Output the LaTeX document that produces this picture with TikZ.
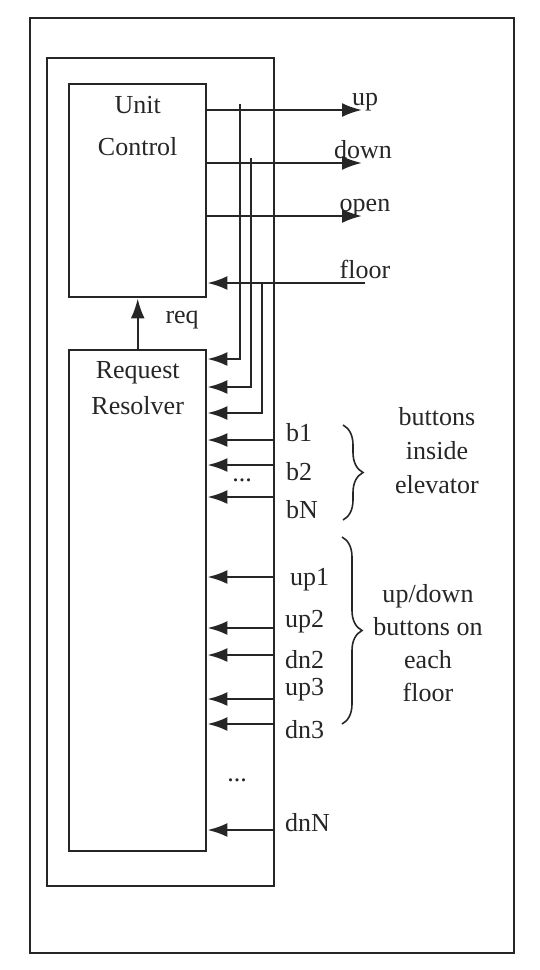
\documentclass[tikz,border=0pt]{standalone}
\usepackage{fontspec}
\setmainfont{Liberation Serif}
\usetikzlibrary{arrows.meta,decorations.pathreplacing}

\begin{document}
\begin{tikzpicture}[x=0.5bp, y=-0.5bp, line width=1.2bp, color=black!85,
  every node/.style={font=\fontsize{13bp}{17bp}\selectfont},
  main node/.style={draw, inner sep=0pt, anchor=north west},
  sig/.style={-{Latex[length=10bp,width=7bp]}},
  pin label/.style={anchor=west, inner sep=0pt},
  brace/.style={decorate, decoration={brace, amplitude=10bp}, line width=0.8bp},
  note/.style={align=center, inner sep=0pt}]
\useasboundingbox (0,0) rectangle (540,970);

\node[main node, minimum width=242bp, minimum height=467.5bp] (system) at (29,17) {};
\node[main node, minimum width=113.5bp, minimum height=414bp] (ctrl) at (46,57) {};
\node[main node, minimum width=68.5bp, minimum height=106.5bp,
  label={[anchor=north, align=center, inner sep=0pt, yshift=-6bp,
  font=\fontsize{13bp}{21bp}\selectfont]north:Unit\\Control}] (uc) at (68,83) {};
\node[main node, minimum width=68.5bp, minimum height=250.5bp,
  label={[anchor=north, align=center, inner sep=0pt, yshift=-5.5bp,
  font=\fontsize{13bp}{18bp}\selectfont]north:Request\\Resolver}] (rr) at (68,349) {};

% outputs of the unit control
\coordinate (up)    at (362,110);
\coordinate (down)  at (362,163);
\coordinate (open)  at (362,216);
\coordinate (floor) at (365,283);
\draw[sig] (uc.east |- up) -- (up) node[anchor=base, xshift=1.5bp, yshift=2.5bp] (up lbl) {up};
\draw[sig] (uc.east |- down) -- (down) node[anchor=base, xshift=0.5bp, yshift=2.5bp] (down lbl) {down};
\draw[sig] (uc.east |- open) -- (open) node[anchor=base, xshift=1.5bp, yshift=2.5bp] (open lbl) {open};
\draw[sig] (floor) node[anchor=base, yshift=2.5bp] (floor lbl) {floor} -- (uc.east |- floor);

% fed back to the resolver
\draw[sig] (240,104) |- (rr.east |- 0,359);
\draw[sig] (251,158) |- (rr.east |- 0,387);
\draw[sig] (262,283) |- (rr.east |- 0,413);

\draw[sig] (rr.north) -- (uc.south) node[midway, anchor=west, xshift=10bp, yshift=2bp] (req) {req};

% button inputs
\foreach \name/\y/\lx/\ly in {b1/440/285/433, b2/465/285/472, bN/497/285/510,
    up1/577/289/580, up2/628/284/622, dn2/655/284/660, up3/699/284/690,
    dn3/724/284/730, dnN/830/284/823} {
  \draw[sig] (273,\y) coordinate (\name) -- (rr.east |- \name);
  \node[pin label] (\name lbl) at (\lx,\ly) {\name};
}
\node (dots1) at (242,480) {...};
\node (dots2) at (237,780) {...};

\draw[brace] (343,425) -- (343,520);
\draw[brace] (342,537) -- (342,724);
\node[note] (inside note) at (437,451) {buttons\\inside\\elevator};
\node[note, font=\fontsize{13bp}{16.5bp}\selectfont] (floor note) at (428,643) {up/down\\buttons on\\each\\floor};
\end{tikzpicture}
\end{document}
